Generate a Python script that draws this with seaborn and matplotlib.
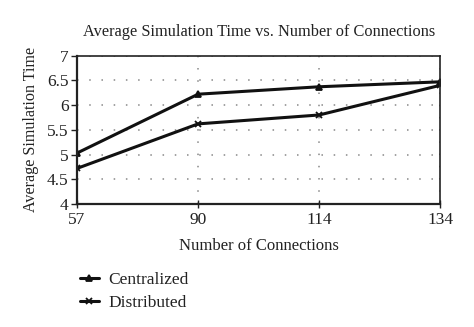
import matplotlib
matplotlib.use("Agg")
import matplotlib.pyplot as plt
import seaborn as sns
import pandas as pd

connections = ["57", "90", "114", "134"]
centralized = [5.03, 6.22, 6.37, 6.47]
distributed = [4.72, 5.62, 5.80, 6.40]
series_names = ["Centralized", "Distributed"]
series_markers = ["^", "x"]
y_ticks = [4, 4.5, 5, 5.5, 6, 6.5, 7]
y_tick_labels = ["4", "4.5", "5", "5.5", "6", "6.5", "7"]

sns.set_theme(style="white")
plt.rcParams["font.family"] = ["Liberation Serif", "DejaVu Serif"]

fig = plt.figure(figsize=(4.74, 3.27), dpi=100)
ax = fig.add_axes([0.1624, 0.376, 0.929 - 0.1624, 0.830 - 0.376])

for name, vals, mk in zip(series_names, [centralized, distributed], series_markers):
    d = pd.DataFrame({"Number of Connections": connections,
                      "Average Simulation Time": vals})
    sns.lineplot(data=d, x="Number of Connections", y="Average Simulation Time",
                 color="#111111", linewidth=2.2, marker=mk, markersize=5,
                 markeredgewidth=1.3, markeredgecolor="#111111",
                 ax=ax, label=name, sort=False)

ax.set_xlim(0, 3)
ax.set_ylim(4, 7)
ax.set_yticks(y_ticks)
ax.set_yticklabels(y_tick_labels)
ax.set_xticks(range(len(connections)))
ax.set_xticklabels(connections)
ax.tick_params(axis="both", labelsize=12.5, colors="#222222", width=1,
               left=True, bottom=True)
ax.tick_params(axis="x", direction="inout", length=6, pad=3)
ax.tick_params(axis="y", direction="out", length=4, pad=2)
ax.grid(True, linestyle=(0, (1, 7)), color="#888888", linewidth=1.1)
for s in ax.spines.values():
    s.set_color("#222222")
    s.set_linewidth(1.2)
ax.spines["left"].set_linewidth(1.6)
ax.spines["bottom"].set_linewidth(1.6)
ax.set_title("Average Simulation Time vs. Number of Connections", fontsize=11.8,
             pad=14, color="#222222")
ax.set_xlabel("Number of Connections", fontsize=12, labelpad=7, color="#222222")
ax.set_ylabel("Average Simulation Time", fontsize=11.6, labelpad=6, color="#222222")

handles, labels = ax.get_legend_handles_labels()
ax.get_legend().remove()
fig.legend(handles, labels, loc="lower left", bbox_to_anchor=(0.135, 0.0),
           frameon=False, fontsize=12.5, handlelength=1.1, handletextpad=0.55,
           labelspacing=0.4, labelcolor="#222222")

fig.savefig("out.png", dpi=100, facecolor="white")
